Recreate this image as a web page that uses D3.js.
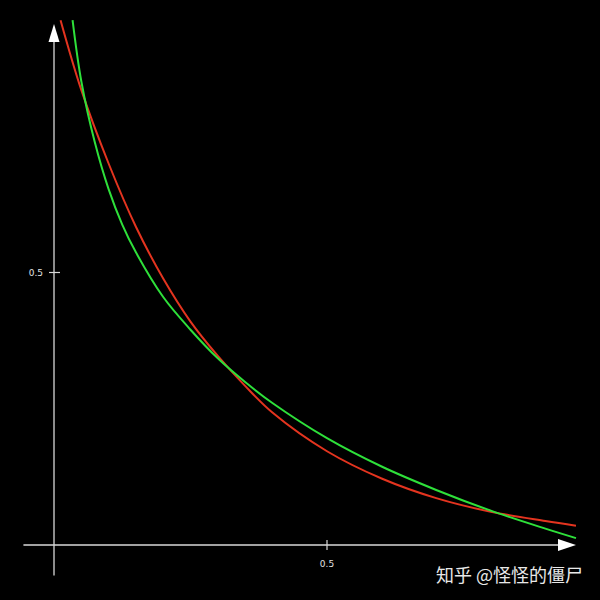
<!DOCTYPE html>
<html>
<head>
<meta charset="utf-8">
<script src="https://cdn.jsdelivr.net/npm/d3@7"></script>
<style>
html,body{margin:0;padding:0;background:#000;}
svg{display:block;}
</style>
</head>
<body>
<script>
// Data
const redX   = [0.012, 0.05, 0.1, 0.15, 0.2, 0.25, 0.3, 0.35, 0.4, 0.5, 0.6, 0.7, 0.8, 0.9, 0.956];
const redY   = [0.963, 0.835, 0.70, 0.584, 0.489, 0.41, 0.347, 0.292, 0.243, 0.172, 0.122, 0.086, 0.061, 0.044, 0.0355];
const greenX = [0.034, 0.05, 0.075, 0.1, 0.125, 0.15, 0.2, 0.25, 0.3, 0.35, 0.4, 0.5, 0.6, 0.7, 0.8, 0.9, 0.956];
const greenY = [0.963, 0.851, 0.738, 0.653, 0.588, 0.537, 0.455, 0.395, 0.3425, 0.299, 0.2605, 0.196, 0.144, 0.101, 0.063, 0.030, 0.0126];
const tickValues = [0.5];
const tickLabels = ["0.5"];
const axisMin = -0.056, axisMax = 0.956;
const watermark = "知乎 @怪怪的僵尸";

const W = 600, H = 600;
const svg = d3.select("body").append("svg").attr("width", W).attr("height", H)
  .style("background", "#000");
const x = d3.scaleLinear().domain([0, 1]).range([54, 600]);
const y = d3.scaleLinear().domain([0, 1]).range([545, 0]);

const axisColor = "#d8d8d8";
// x axis
svg.append("line").attr("x1", x(axisMin)).attr("x2", x(axisMax) - 10)
  .attr("y1", y(0)).attr("y2", y(0)).attr("stroke", axisColor).attr("stroke-width", 1.3);
svg.append("path")
  .attr("d", `M${x(axisMax)},${y(0)} L${x(axisMax)-18},${y(0)-6} L${x(axisMax)-18},${y(0)+6} Z`)
  .attr("fill", "#fff");
// y axis
svg.append("line").attr("x1", x(0)).attr("x2", x(0))
  .attr("y1", y(axisMin)).attr("y2", y(axisMax) + 10).attr("stroke", axisColor).attr("stroke-width", 1.3);
svg.append("path")
  .attr("d", `M${x(0)},${y(axisMax)} L${x(0)-5.5},${y(axisMax)+18} L${x(0)+5.5},${y(axisMax)+18} Z`)
  .attr("fill", "#fff");

// ticks
tickValues.forEach((v, i) => {
  svg.append("line").attr("x1", x(v)).attr("x2", x(v)).attr("y1", y(0) - 5).attr("y2", y(0) + 5)
    .attr("stroke", axisColor).attr("stroke-width", 1.2);
  svg.append("text").attr("x", x(v)).attr("y", y(0) + 22).attr("text-anchor", "middle")
    .attr("fill", "#e0e0e0").attr("font-family", "DejaVu Sans, sans-serif").attr("font-size", 9)
    .text(tickLabels[i]);
  svg.append("line").attr("x1", x(0) - 5).attr("x2", x(0) + 6).attr("y1", y(v)).attr("y2", y(v))
    .attr("stroke", axisColor).attr("stroke-width", 1.2);
  svg.append("text").attr("x", x(0) - 11).attr("y", y(v) + 3.5).attr("text-anchor", "end")
    .attr("fill", "#e0e0e0").attr("font-family", "DejaVu Sans, sans-serif").attr("font-size", 9)
    .text(tickLabels[i]);
});

const line = d3.line().x(d => x(d[0])).y(d => y(d[1])).curve(d3.curveCatmullRom.alpha(0.5));
svg.append("path").datum(redX.map((v, i) => [v, redY[i]]))
  .attr("d", line).attr("fill", "none").attr("stroke", "#e4341f").attr("stroke-width", 2);
svg.append("path").datum(greenX.map((v, i) => [v, greenY[i]]))
  .attr("d", line).attr("fill", "none").attr("stroke", "#2ee03a").attr("stroke-width", 2);

svg.append("text").attr("x", 583).attr("y", 582).attr("text-anchor", "end")
  .attr("fill", "#e8e8e8").attr("font-family", "Noto Sans CJK SC, sans-serif").attr("font-size", 18)
  .text(watermark);
</script>
</body>
</html>
